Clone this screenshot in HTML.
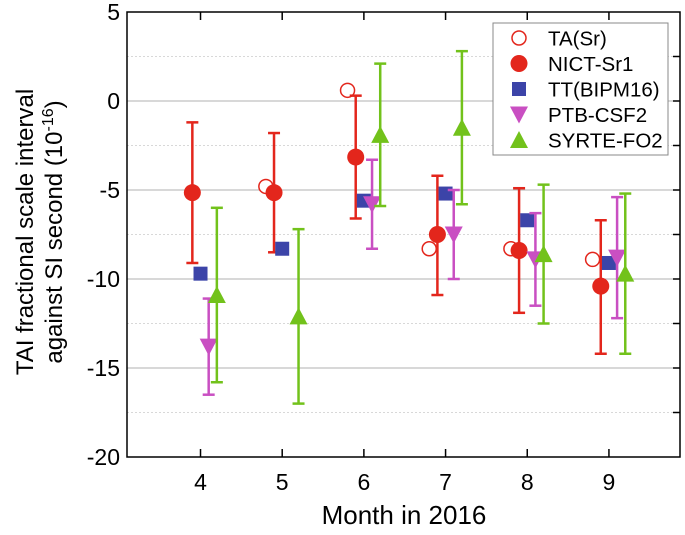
<!DOCTYPE html>
<html><head><meta charset="utf-8"><style>
body{margin:0;background:#fff}
svg{font-family:"Liberation Sans",Arial,sans-serif}
</style></head><body>
<svg id="c" width="685" height="530"></svg>
<script>
const months=[4,5,6,7,8,9];
const taVals=[null,-4.8,0.6,-8.3,-8.3,-8.9];
const nictVals=[-5.15,-5.15,-3.15,-7.5,-8.4,-10.4];
const nictHi=[-1.2,-1.8,0.3,-4.2,-4.9,-6.7];
const nictLo=[-9.1,-8.5,-6.6,-10.9,-11.9,-14.2];
const ttVals=[-9.7,-8.3,-5.6,-5.2,-6.7,-9.1];
const ptbVals=[-13.8,null,-5.8,-7.5,-8.9,-8.8];
const ptbHi=[-11.1,null,-3.3,-5.0,-6.3,-5.4];
const ptbLo=[-16.5,null,-8.3,-10.0,-11.5,-12.2];
const syrVals=[-10.9,-12.1,-1.9,-1.5,-8.6,-9.7];
const syrHi=[-6.0,-7.2,2.1,2.8,-4.7,-5.2];
const syrLo=[-15.8,-17.0,-5.9,-5.8,-12.5,-14.2];
const yTicks=[5,0,-5,-10,-15,-20];
const L=127,R=680,T=12,B=457,XMIN=3.1,XMAX=9.87,YMIN=-20,YMAX=5;
const X=v=>L+(v-XMIN)/(XMAX-XMIN)*(R-L);
const Y=v=>B-(v-YMIN)/(YMAX-YMIN)*(B-T);
const svg=document.getElementById('c');const NS='http://www.w3.org/2000/svg';
function mk(t,a,p){const e=document.createElementNS(NS,t);for(const k in a)e.setAttribute(k,a[k]);(p||svg).appendChild(e);return e;}
for(let v=-17.5;v<5;v+=2.5){const major=v%5===0;
const g=mk('line',{x1:L,x2:R,y1:Y(v),y2:Y(v),stroke:major?'#b0b0b0':'#d8d8d8','stroke-width':1,'stroke-dasharray':major?'':'2,2'});


const t1=mk('line',{x1:R,x2:R-7,y1:Y(v),y2:Y(v),stroke:'#000','stroke-width':1.5});

}
const fr=mk('rect',{x:L,y:T,width:R-L,height:B-T,fill:'none',stroke:'#000','stroke-width':1.5});


months.forEach(m=>{
const a=mk('line',{x1:X(m),x2:X(m),y1:B,y2:B-8,stroke:'#000','stroke-width':1.5});


const b=mk('line',{x1:X(m),x2:X(m),y1:T,y2:T+8,stroke:'#000','stroke-width':1.5});


const t=mk('text',{x:X(m),y:B+33,'text-anchor':'middle','font-size':23});t.textContent=m;

});
yTicks.forEach(v=>{const t=mk('text',{x:L-7,y:Y(v)+8,'text-anchor':'end','font-size':23});t.textContent=v;

});
const xt=mk('text',{x:404,y:524,'text-anchor':'middle','font-size':26});xt.textContent='Month in 2016';


const yt=mk('text',{transform:'translate(42,232) rotate(-90)','text-anchor':'middle','font-size':24});


const s1=mk('tspan',{x:0,y:-9},yt);s1.textContent='TAI fractional scale interval';
const s2=mk('tspan',{x:0,y:20},yt);s2.textContent='against SI second (10';
const s3=mk('tspan',{dy:-9,'font-size':16},yt);s3.textContent='-16';
const s4=mk('tspan',{dy:9},yt);s4.textContent=')';
const RED='#e3261c',BLUE='#3c44a8',MAG='#c94fc2',GRN='#72c21b';
function err(x,hi,lo,col){const g=mk('g',{stroke:col,'stroke-width':2.5});


mk('line',{x1:x,x2:x,y1:Y(hi),y2:Y(lo)},g);
mk('line',{x1:x-6,x2:x+6,y1:Y(hi),y2:Y(hi)},g);
mk('line',{x1:x-6,x2:x+6,y1:Y(lo),y2:Y(lo)},g);}
function marker(type,x,y,col,name){let e;
if(type==='oc')e=mk('circle',{cx:x,cy:y,r:7,fill:'#fff',stroke:col,'stroke-width':1.5});
else if(type==='c')e=mk('circle',{cx:x,cy:y,r:8.5,fill:col});
else if(type==='s')e=mk('rect',{x:x-7,y:y-7,width:14,height:14,fill:col});
else if(type==='d')e=mk('polygon',{points:`${x-9},${y-8} ${x+9},${y-8} ${x},${y+9}`,fill:col});
else e=mk('polygon',{points:`${x-9},${y+8} ${x+9},${y+8} ${x},${y-9}`,fill:col});

return e;}
months.forEach((m,i)=>{
if(taVals[i]!==null)marker('oc',X(m-0.2),Y(taVals[i]),RED,'ta-sr-point');
err(X(m-0.1),nictHi[i],nictLo[i],RED);marker('c',X(m-0.1),Y(nictVals[i]),RED,'nict-sr1-point');
marker('s',X(m),Y(ttVals[i]),BLUE,'tt-bipm16-point');
if(ptbVals[i]!==null){err(X(m+0.1),ptbHi[i],ptbLo[i],MAG);marker('d',X(m+0.1),Y(ptbVals[i]),MAG,'ptb-csf2-point');}
err(X(m+0.2),syrHi[i],syrLo[i],GRN);marker('u',X(m+0.2),Y(syrVals[i]),GRN,'syrte-fo2-point');});
const lg=mk('g',{});
mk('rect',{x:493,y:23,width:175,height:132,fill:'#fff',stroke:'#888','stroke-width':1},lg);
const ents=[['oc',RED,'TA(Sr)'],['c',RED,'NICT-Sr1'],['s',BLUE,'TT(BIPM16)'],['d',MAG,'PTB-CSF2'],['u',GRN,'SYRTE-FO2']];
ents.forEach((e,i)=>{const y=38+i*25.5;const m=marker(e[0],519,y,e[1],'legend-marker');lg.appendChild(m);
const t=mk('text',{x:548,y:y+7.5,'font-size':20.5},lg);t.textContent=e[2];

});
</script></body></html>
